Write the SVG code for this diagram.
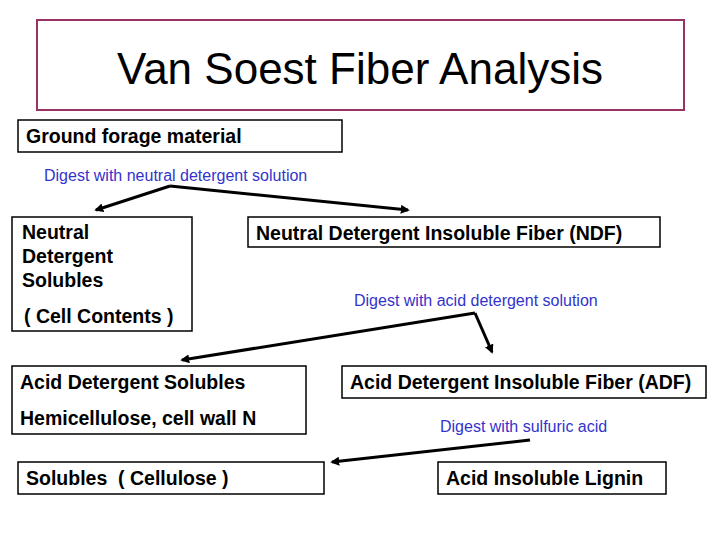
<svg xmlns="http://www.w3.org/2000/svg" width="720" height="540" viewBox="0 0 720 540">
<style>
.b{fill:#fff;stroke:#000;stroke-width:1.5}
.t{font-family:"Liberation Sans",Arial,sans-serif;font-weight:bold;font-size:19.5px;fill:#000;white-space:pre}
.l{font-family:"Liberation Sans",Arial,sans-serif;font-size:16px;fill:#3333cc}
.c{stroke:#000;stroke-width:3;fill:none;marker-end:url(#a)}
</style>
<defs><marker id="a" viewBox="0 0 10 10" refX="8" refY="5" markerWidth="3" markerHeight="3" orient="auto"><path d="M0,0L10,5L0,10z" fill="#000"/></marker></defs>
<rect width="720" height="540" fill="#fff"/>
<g id="title"><rect x="37" y="20" width="647" height="90" fill="#fff" stroke="#993366" stroke-width="2"/>
<text x="360" y="84" text-anchor="middle" font-family="Liberation Sans,Arial,sans-serif" font-size="44">Van Soest Fiber Analysis</text></g>
<g id="ground"><rect class="b" x="18" y="120" width="324" height="32"/><text class="t" x="26" y="143">Ground forage material</text></g>
<g id="nds"><rect class="b" x="12" y="217" width="180" height="114"/><text class="t" x="22" y="239">Neutral</text><text class="t" x="22" y="263">Detergent</text><text class="t" x="22" y="287">Solubles</text><text class="t" x="24" y="323">( Cell Contents )</text></g>
<g id="ndf"><rect class="b" x="248" y="217" width="412" height="30"/><text class="t" x="256" y="240">Neutral Detergent Insoluble Fiber (NDF)</text></g>
<g id="ads"><rect class="b" x="12" y="366" width="294" height="68"/><text class="t" x="20" y="389">Acid Detergent Solubles</text><text class="t" x="20" y="425">Hemicellulose, cell wall N</text></g>
<g id="adf"><rect class="b" x="342" y="366" width="364" height="32"/><text class="t" x="350" y="389">Acid Detergent Insoluble Fiber (ADF)</text></g>
<g id="sol"><rect class="b" x="18" y="462" width="306" height="32"/><text class="t" x="26" y="485">Solubles  ( Cellulose )</text></g>
<g id="ail"><rect class="b" x="438" y="462" width="228" height="32"/><text class="t" x="446" y="485">Acid Insoluble Lignin</text></g>
<g id="connectors">
<text class="l" x="44" y="181">Digest with neutral detergent solution</text>
<path class="c" d="M170,186L96,210"/><path class="c" d="M170,186L408,210"/>
<text class="l" x="354" y="306">Digest with acid detergent solution</text>
<path class="c" d="M475,313L182,360"/><path class="c" d="M475,313L492,352"/>
<text class="l" x="440" y="432">Digest with sulfuric acid</text>
<path class="c" d="M530,440L332,462"/>
</g>
</svg>
